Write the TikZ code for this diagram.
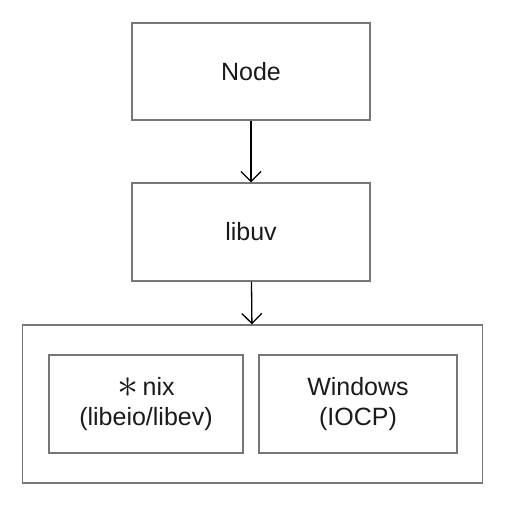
\documentclass[tikz,border=0pt]{standalone}
\usepackage{fontspec}
\setmainfont{Liberation Sans}
\usepackage{tikz}
\usetikzlibrary{arrows.meta}

\definecolor{boxgray}{HTML}{777777}
\definecolor{textgray}{HTML}{1A1A1A}

\tikzset{
    layer/.style={draw=boxgray, line width=1.3pt, text=textgray,
        font=\fontsize{25}{30}\selectfont, align=center, inner sep=0pt},
    flow/.style={-{Straight Barb[length=10pt,width=20pt]}, line width=1.3pt, black}
}

\begin{document}
\begin{tikzpicture}[x=1pt, y=-1pt]
    \useasboundingbox (0,0) rectangle (504,506);

    % Stack of layers
    \node[layer, minimum width=238pt, minimum height=97pt] (node) at (251,71.5) {Node};
    \node[layer, minimum width=238pt, minimum height=98pt] (libuv) at (251,232) {libuv};

    % Platform backends
    \node[layer, minimum width=460pt, minimum height=158pt] (platform) at (252.7,404) {};
    \node[layer, minimum width=194pt, minimum height=98pt] (nix) at (146,404)
        {\raisebox{-2pt}{\scalebox{1.7}{$\ast$}}\,nix\\(libeio/libev)};
    \node[layer, minimum width=198pt, minimum height=98pt] (win) at (358,404) {Windows\\(IOCP)};

    % Arrows
    \draw[flow] (node) -- (libuv);
    \draw[flow] (libuv) -- (platform);
\end{tikzpicture}
\end{document}
